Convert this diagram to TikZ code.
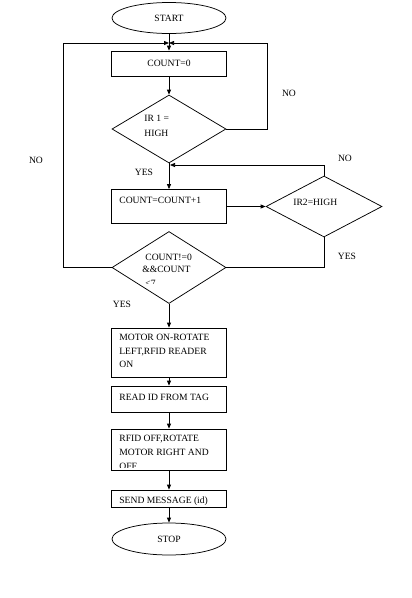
\documentclass[tikz,border=0pt]{standalone}
\usepackage{fontspec}
\setmainfont{Liberation Serif}
\usetikzlibrary{shapes.geometric,arrows.meta}
\begin{document}
\begin{tikzpicture}[x=1pt,y=-1pt,
  font=\fontsize{9.6}{13}\selectfont,
  line width=0.75pt,
  box/.style={draw, rectangle, minimum width=115pt, inner sep=0pt},
  term/.style={draw, ellipse, minimum width=114pt, minimum height=31pt, inner sep=0pt},
  dec/.style={draw, diamond, inner sep=0pt},
  txt/.style={anchor=base west, inner sep=0pt},
  lbl/.style={inner sep=0pt},
  arr/.style={-{Triangle[length=5pt,width=4pt]}}]
\useasboundingbox (0,0) rectangle (412,598);

% terminals and boxes
\node[term] (start) at (169,18) {START};
\node[box, minimum height=25pt] (c0) at (169,63.5) {COUNT=0};
\node[dec, minimum width=114pt, minimum height=68pt] (ir1) at (169,129) {};
\node[txt] (ir1a) at (144,121.5) {IR 1 =};
\node[txt] (ir1b) at (144,136) {HIGH};

\node[box, minimum height=34pt] (c1) at (169,206.5) {};
\node[txt] (c1t) at (119,203.5) {COUNT=COUNT+1};

\node[dec, minimum width=116pt, minimum height=61pt] (ir2) at (324,206.5) {};
\node[txt] (ir2t) at (293,205.5) {IR2=HIGH};

\node[dec, minimum width=114pt, minimum height=72pt] (cd) at (169,267.5) {};
\begin{scope}
  \clip (100,238) rectangle (240,283.5);
  \node[txt] (cda) at (145,260) {COUNT!=0};
  \node[txt] (cdb) at (142,272.5) {\&\&COUNT};
  \node[txt] (cdc) at (145,286) {<7};
\end{scope}

\node[box, minimum height=49pt] (m) at (169,352.5) {};
\node[txt] (ma) at (119,340.5) {MOTOR ON-ROTATE};
\node[txt] (mb) at (119,354) {LEFT,RFID READER};
\node[txt] (mc) at (119,367) {ON};

\node[box, minimum height=26pt] (rd) at (169,399) {};
\node[txt] (rdt) at (119,400.5) {READ ID FROM TAG};

\node[box, minimum height=41pt] (rf) at (169,449.5) {};
\begin{scope}
  \clip (112,429) rectangle (227,467.5);
  \node[txt] (rfa) at (119,441.5) {RFID OFF,ROTATE};
  \node[txt] (rfb) at (119,455.5) {MOTOR RIGHT AND};
  \node[txt] (rfc) at (119,469.5) {OFF};
\end{scope}

\node[box, minimum height=17pt] (sm) at (169,498.5) {};
\node[txt] (smt) at (119,503) {SEND MESSAGE (id)};

\node[term, minimum height=32pt] (stop) at (169,539) {STOP};

% labels
\node[lbl] (no1) at (289,93) {NO};
\node[lbl] (yes1) at (144,172) {YES};
\node[lbl] (no2) at (345,158) {NO};
\node[lbl] (yes2) at (347,256) {YES};
\node[lbl] (no3) at (36,160) {NO};
\node[lbl] (yes3) at (122,304) {YES};

% junction coordinates
\coordinate (j) at (169,43);
\coordinate (l1) at (63,267.5);
\coordinate (l2) at (63,43);
\coordinate (r1) at (267,129);
\coordinate (r2) at (267,43);
\coordinate (n1) at (324,165);
\coordinate (n2) at (170,165);
\coordinate (y1) at (324,267.5);

% connectors
\draw[arr] (start) -- (c0);
\draw[arr] (cd.west) -- (l1) -- (l2) -- (j);
\draw[arr] (ir1.east) -- (r1) -- (r2) -- (j);
\draw[arr] (c0) -- (ir1);
\draw[arr] (ir1) -- (c1);
\draw[arr] (c1.east) -- (ir2.west);
\draw[arr] (ir2.north) -- (n1) -- (n2);
\draw (ir2.south) -- (y1) -- (cd.east);
\draw[arr] (cd) -- (m);
\draw[arr] (m) -- (rd);
\draw[arr] (rd) -- (rf);
\draw[arr] (rf) -- (sm);
\draw[arr] (sm) -- (stop);
\end{tikzpicture}
\end{document}
